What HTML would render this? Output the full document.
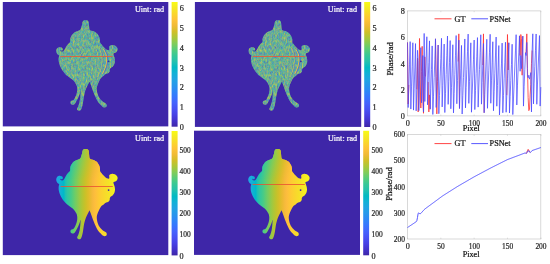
<!DOCTYPE html>
<html lang="en"><head><meta charset="utf-8"><title>Phase maps: GT vs PSNet</title>
<style>html,body{margin:0;padding:0;background:#fff}svg{display:block}text{font-family:"Liberation Serif",serif;stroke-width:.22px}</style>
</head><body>
<svg width="550" height="264" viewBox="0 0 550 264">
<defs>
<linearGradient id="pv" x1="0" y1="1" x2="0" y2="0"><stop offset="0.0000" stop-color="#3e26a8"/><stop offset="0.0476" stop-color="#4332cb"/><stop offset="0.0952" stop-color="#4741e5"/><stop offset="0.1429" stop-color="#4852f4"/><stop offset="0.1905" stop-color="#4563fd"/><stop offset="0.2381" stop-color="#3875fe"/><stop offset="0.2857" stop-color="#2e87f7"/><stop offset="0.3333" stop-color="#2797eb"/><stop offset="0.3810" stop-color="#20a5e3"/><stop offset="0.4286" stop-color="#12b1d6"/><stop offset="0.4762" stop-color="#02bac3"/><stop offset="0.5238" stop-color="#24c1ae"/><stop offset="0.5714" stop-color="#37c897"/><stop offset="0.6190" stop-color="#57cc7a"/><stop offset="0.6667" stop-color="#81cc59"/><stop offset="0.7143" stop-color="#abc739"/><stop offset="0.7619" stop-color="#d1bf27"/><stop offset="0.8095" stop-color="#f0ba36"/><stop offset="0.8571" stop-color="#fec338"/><stop offset="0.9048" stop-color="#fad62d"/><stop offset="0.9524" stop-color="#f5e924"/><stop offset="1.0000" stop-color="#f9fb15"/></linearGradient>
<linearGradient id="uw" gradientUnits="userSpaceOnUse" x1="54" y1="0" x2="120" y2="0"><stop offset="0.0000" stop-color="#259be8"/><stop offset="0.0294" stop-color="#22a2e4"/><stop offset="0.0588" stop-color="#1da9e0"/><stop offset="0.0882" stop-color="#16afd9"/><stop offset="0.1176" stop-color="#0ab4d1"/><stop offset="0.1471" stop-color="#01b8c9"/><stop offset="0.1765" stop-color="#21c1b0"/><stop offset="0.2059" stop-color="#31c6a0"/><stop offset="0.2353" stop-color="#3bc993"/><stop offset="0.2647" stop-color="#4acb85"/><stop offset="0.2941" stop-color="#5ecc74"/><stop offset="0.3235" stop-color="#71cd64"/><stop offset="0.3529" stop-color="#84cb56"/><stop offset="0.3824" stop-color="#97ca47"/><stop offset="0.4118" stop-color="#a9c73a"/><stop offset="0.4412" stop-color="#b9c430"/><stop offset="0.4706" stop-color="#c8c129"/><stop offset="0.5000" stop-color="#d6be28"/><stop offset="0.5294" stop-color="#e2bc2b"/><stop offset="0.5588" stop-color="#edba33"/><stop offset="0.5882" stop-color="#f6ba3c"/><stop offset="0.6176" stop-color="#fdbd3d"/><stop offset="0.6471" stop-color="#fec339"/><stop offset="0.6765" stop-color="#fec934"/><stop offset="0.7059" stop-color="#fccf31"/><stop offset="0.7353" stop-color="#fad42e"/><stop offset="0.7647" stop-color="#f8d92c"/><stop offset="0.7941" stop-color="#f6de29"/><stop offset="0.8235" stop-color="#f5e227"/><stop offset="0.8529" stop-color="#f5e725"/><stop offset="0.8824" stop-color="#f5eb23"/><stop offset="0.9118" stop-color="#f6f020"/><stop offset="0.9412" stop-color="#f7f41c"/><stop offset="0.9706" stop-color="#f8f817"/><stop offset="1.0000" stop-color="#f9fb15"/></linearGradient>
<linearGradient id="uw2" href="#uw" gradientTransform="translate(4.5,0)"/>
<linearGradient id="fadeg" gradientUnits="userSpaceOnUse" x1="0" y1="158" x2="0" y2="180"><stop offset="0" stop-color="#fff"/><stop offset="1" stop-color="#000"/></linearGradient>
<mask id="fade" maskUnits="userSpaceOnUse" x="50" y="140" width="80" height="110"><rect x="50" y="140" width="80" height="110" fill="url(#fadeg)"/></mask>
<path id="vase" d="M85.50,148.90C86.10,148.90 86.88,149.02 87.40,149.30C87.92,149.58 88.35,150.05 88.60,150.60C88.85,151.15 88.82,151.93 88.90,152.60C88.98,153.27 89.03,153.90 89.10,154.60C89.17,155.30 89.20,156.13 89.30,156.80C89.40,157.47 89.35,158.17 89.70,158.60C90.05,159.03 90.65,159.13 91.40,159.40C92.15,159.67 93.37,159.83 94.20,160.20C95.03,160.57 95.77,161.07 96.40,161.60C97.03,162.13 97.53,162.73 98.00,163.40C98.47,164.07 98.88,164.87 99.20,165.60C99.52,166.33 99.77,167.10 99.90,167.80C100.03,168.50 99.95,169.20 100.00,169.80C100.05,170.40 99.93,170.83 100.20,171.40C100.47,171.97 101.03,172.50 101.60,173.20C102.17,173.90 102.93,174.87 103.60,175.60C104.27,176.33 104.90,177.10 105.60,177.60C106.30,178.10 107.20,178.47 107.80,178.60C108.40,178.73 108.95,178.67 109.20,178.40C109.45,178.13 109.30,177.50 109.30,177.00C109.30,176.50 109.02,175.87 109.20,175.40C109.38,174.93 109.87,174.48 110.40,174.20C110.93,173.92 111.70,173.70 112.40,173.70C113.10,173.70 113.93,173.92 114.60,174.20C115.27,174.48 115.92,174.90 116.40,175.40C116.88,175.90 117.33,176.57 117.50,177.20C117.67,177.83 117.62,178.58 117.40,179.20C117.18,179.82 116.70,180.48 116.20,180.90C115.70,181.32 114.87,181.45 114.40,181.70C113.93,181.95 113.53,182.08 113.40,182.40C113.27,182.72 113.40,182.90 113.60,183.60C113.80,184.30 114.37,185.57 114.60,186.60C114.83,187.63 115.03,188.77 115.00,189.80C114.97,190.83 114.77,191.90 114.40,192.80C114.03,193.70 113.43,194.53 112.80,195.20C112.17,195.87 111.10,196.28 110.60,196.80C110.10,197.32 109.95,197.78 109.80,198.30C109.65,198.82 109.88,199.38 109.70,199.90C109.52,200.42 109.12,201.00 108.70,201.40C108.28,201.80 107.77,202.05 107.20,202.30C106.63,202.55 105.83,202.58 105.30,202.90C104.77,203.22 104.55,203.75 104.00,204.20C103.45,204.65 102.57,205.08 102.00,205.60C101.43,206.12 101.00,206.73 100.60,207.30C100.20,207.87 99.97,208.32 99.60,209.00C99.23,209.68 98.77,210.57 98.40,211.40C98.03,212.23 97.67,213.13 97.40,214.00C97.13,214.87 96.88,215.67 96.80,216.60C96.72,217.53 96.77,218.57 96.90,219.60C97.03,220.63 97.28,221.77 97.60,222.80C97.92,223.83 98.30,224.90 98.80,225.80C99.30,226.70 99.97,227.47 100.60,228.20C101.23,228.93 101.93,229.67 102.60,230.20C103.27,230.73 104.00,231.00 104.60,231.40C105.20,231.80 105.83,232.13 106.20,232.60C106.57,233.07 106.80,233.68 106.80,234.20C106.80,234.72 106.57,235.37 106.20,235.70C105.83,236.03 105.15,236.22 104.60,236.20C104.05,236.18 103.40,235.90 102.90,235.60C102.40,235.30 102.05,234.83 101.60,234.40C101.15,233.97 100.80,233.67 100.20,233.00C99.60,232.33 98.67,231.37 98.00,230.40C97.33,229.43 96.77,228.30 96.20,227.20C95.63,226.10 95.13,225.03 94.60,223.80C94.07,222.57 93.53,221.23 93.00,219.80C92.47,218.37 91.88,216.53 91.40,215.20C90.92,213.87 90.42,212.58 90.10,211.80C89.78,211.02 89.72,210.50 89.50,210.50C89.28,210.50 89.15,211.15 88.80,211.80C88.45,212.45 87.87,213.47 87.40,214.40C86.93,215.33 86.40,216.40 86.00,217.40C85.60,218.40 85.30,219.37 85.00,220.40C84.70,221.43 84.43,222.50 84.20,223.60C83.97,224.70 83.78,225.87 83.60,227.00C83.42,228.13 83.28,229.27 83.10,230.40C82.92,231.53 82.73,232.73 82.50,233.80C82.27,234.87 82.03,235.95 81.70,236.80C81.37,237.65 81.02,238.50 80.50,238.90C79.98,239.30 79.15,239.33 78.60,239.20C78.05,239.07 77.40,238.53 77.20,238.10C77.00,237.67 77.20,237.22 77.40,236.60C77.60,235.98 78.08,235.23 78.40,234.40C78.72,233.57 79.05,232.60 79.30,231.60C79.55,230.60 79.73,229.50 79.90,228.40C80.07,227.30 80.20,226.07 80.30,225.00C80.40,223.93 80.45,222.87 80.50,222.00C80.55,221.13 80.70,219.80 80.60,219.80C80.50,219.80 80.20,221.13 79.90,222.00C79.60,222.87 79.20,224.03 78.80,225.00C78.40,225.97 77.92,226.97 77.50,227.80C77.08,228.63 76.68,229.32 76.30,230.00C75.92,230.68 75.58,231.37 75.20,231.90C74.82,232.43 74.47,232.93 74.00,233.20C73.53,233.47 72.92,233.58 72.40,233.50C71.88,233.42 71.23,233.08 70.90,232.70C70.57,232.32 70.38,231.68 70.40,231.20C70.42,230.72 70.65,230.13 71.00,229.80C71.35,229.47 72.03,229.43 72.50,229.20C72.97,228.97 73.42,228.78 73.80,228.40C74.18,228.02 74.48,227.47 74.80,226.90C75.12,226.33 75.40,225.75 75.70,225.00C76.00,224.25 76.35,223.33 76.60,222.40C76.85,221.47 77.10,220.40 77.20,219.40C77.30,218.40 77.33,217.37 77.20,216.40C77.07,215.43 76.77,214.47 76.40,213.60C76.03,212.73 75.57,212.00 75.00,211.20C74.43,210.40 73.80,209.53 73.00,208.80C72.20,208.07 71.10,207.47 70.20,206.80C69.30,206.13 68.43,205.50 67.60,204.80C66.77,204.10 65.97,203.40 65.20,202.60C64.43,201.80 63.67,200.93 63.00,200.00C62.33,199.07 61.73,198.00 61.20,197.00C60.67,196.00 60.18,195.00 59.80,194.00C59.42,193.00 59.10,192.00 58.90,191.00C58.70,190.00 58.60,188.90 58.60,188.00C58.60,187.10 58.80,186.23 58.90,185.60C59.00,184.97 59.38,184.60 59.20,184.20C59.02,183.80 58.23,183.67 57.80,183.20C57.37,182.73 56.87,182.03 56.60,181.40C56.33,180.77 56.17,180.07 56.20,179.40C56.23,178.73 56.43,177.95 56.80,177.40C57.17,176.85 57.80,176.35 58.40,176.10C59.00,175.85 59.77,175.82 60.40,175.90C61.03,175.98 61.78,176.25 62.20,176.60C62.62,176.95 62.90,177.57 62.90,178.00C62.90,178.43 62.55,179.03 62.20,179.20C61.85,179.37 61.13,179.13 60.80,179.00C60.47,178.87 60.23,178.27 60.20,178.40C60.17,178.53 60.27,179.47 60.60,179.80C60.93,180.13 61.67,180.47 62.20,180.40C62.73,180.33 63.30,179.93 63.80,179.40C64.30,178.87 64.73,177.97 65.20,177.20C65.67,176.43 66.10,175.53 66.60,174.80C67.10,174.07 67.67,173.40 68.20,172.80C68.73,172.20 69.47,171.70 69.80,171.20C70.13,170.70 70.13,170.37 70.20,169.80C70.27,169.23 70.08,168.50 70.20,167.80C70.32,167.10 70.57,166.33 70.90,165.60C71.23,164.87 71.68,164.07 72.20,163.40C72.72,162.73 73.30,162.12 74.00,161.60C74.70,161.08 75.57,160.68 76.40,160.30C77.23,159.92 78.30,159.68 79.00,159.30C79.70,158.92 80.22,158.55 80.60,158.00C80.98,157.45 81.07,156.70 81.30,156.00C81.53,155.30 81.82,154.50 82.00,153.80C82.18,153.10 82.27,152.38 82.40,151.80C82.53,151.22 82.57,150.72 82.80,150.30C83.03,149.88 83.35,149.53 83.80,149.30C84.25,149.07 84.90,148.90 85.50,148.90Z"/>
<clipPath id="vc"><use href="#vase"/></clipPath>
<filter id="nz" x="0" y="0" width="100%" height="100%" color-interpolation-filters="sRGB"><feTurbulence type="fractalNoise" baseFrequency="0.6 0.32" numOctaves="2" seed="11" result="t"/><feColorMatrix in="t" type="matrix" values="2.3 0 0 0 -0.61  2.3 0 0 0 -0.61  2.3 0 0 0 -0.61  0 0 0 0 1"/><feComponentTransfer result="a"><feFuncR type="table" tableValues="0.242 0.258 0.271 0.278 0.281 0.279 0.268 0.239 0.193 0.178 0.164 0.143 0.120 0.084 0.018 0.024 0.119 0.184 0.234 0.321 0.426 0.543 0.656 0.761 0.854 0.932 0.992 0.995 0.980 0.961 0.963 0.977"/><feFuncG type="table" tableValues="0.150 0.182 0.216 0.258 0.303 0.348 0.394 0.441 0.491 0.535 0.577 0.616 0.653 0.686 0.714 0.736 0.754 0.772 0.789 0.799 0.803 0.796 0.782 0.762 0.743 0.730 0.741 0.786 0.836 0.887 0.937 0.984"/><feFuncB type="table" tableValues="0.660 0.753 0.839 0.901 0.944 0.974 0.991 0.998 0.987 0.963 0.931 0.904 0.884 0.851 0.805 0.753 0.698 0.639 0.572 0.494 0.407 0.319 0.234 0.171 0.158 0.204 0.237 0.205 0.178 0.154 0.127 0.081"/></feComponentTransfer><feColorMatrix in="t" type="matrix" values="0 2.3 0 0 -0.61  0 2.3 0 0 -0.61  0 2.3 0 0 -0.61  0 0 0 0 1"/><feComponentTransfer result="b"><feFuncR type="table" tableValues="0.242 0.258 0.271 0.278 0.281 0.279 0.268 0.239 0.193 0.178 0.164 0.143 0.120 0.084 0.018 0.024 0.119 0.184 0.234 0.321 0.426 0.543 0.656 0.761 0.854 0.932 0.992 0.995 0.980 0.961 0.963 0.977"/><feFuncG type="table" tableValues="0.150 0.182 0.216 0.258 0.303 0.348 0.394 0.441 0.491 0.535 0.577 0.616 0.653 0.686 0.714 0.736 0.754 0.772 0.789 0.799 0.803 0.796 0.782 0.762 0.743 0.730 0.741 0.786 0.836 0.887 0.937 0.984"/><feFuncB type="table" tableValues="0.660 0.753 0.839 0.901 0.944 0.974 0.991 0.998 0.987 0.963 0.931 0.904 0.884 0.851 0.805 0.753 0.698 0.639 0.572 0.494 0.407 0.319 0.234 0.171 0.158 0.204 0.237 0.205 0.178 0.154 0.127 0.081"/></feComponentTransfer><feColorMatrix in="t" type="matrix" values="0 0 2.3 0 -0.61  0 0 2.3 0 -0.61  0 0 2.3 0 -0.61  0 0 0 0 1"/><feComponentTransfer result="c"><feFuncR type="table" tableValues="0.242 0.258 0.271 0.278 0.281 0.279 0.268 0.239 0.193 0.178 0.164 0.143 0.120 0.084 0.018 0.024 0.119 0.184 0.234 0.321 0.426 0.543 0.656 0.761 0.854 0.932 0.992 0.995 0.980 0.961 0.963 0.977"/><feFuncG type="table" tableValues="0.150 0.182 0.216 0.258 0.303 0.348 0.394 0.441 0.491 0.535 0.577 0.616 0.653 0.686 0.714 0.736 0.754 0.772 0.789 0.799 0.803 0.796 0.782 0.762 0.743 0.730 0.741 0.786 0.836 0.887 0.937 0.984"/><feFuncB type="table" tableValues="0.660 0.753 0.839 0.901 0.944 0.974 0.991 0.998 0.987 0.963 0.931 0.904 0.884 0.851 0.805 0.753 0.698 0.639 0.572 0.494 0.407 0.319 0.234 0.171 0.158 0.204 0.237 0.205 0.178 0.154 0.127 0.081"/></feComponentTransfer><feComposite in="a" in2="b" operator="arithmetic" k1="0" k2="0.5" k3="0.5" k4="0" result="ab"/><feComposite in="ab" in2="c" operator="arithmetic" k1="0" k2="0.667" k3="0.333" k4="0"/><feGaussianBlur stdDeviation="0.45"/></filter>
</defs>
<rect width="550" height="264" fill="#fff"/>
<rect x="2.8" y="2" width="165.5" height="124.4" fill="#3e26a8"/>
<rect x="194.9" y="2" width="166.3" height="124.9" fill="#3e26a8"/>
<rect x="2.8" y="131" width="165.5" height="124.1" fill="#3e26a8"/>
<rect x="194" y="130.7" width="166" height="124.2" fill="#3e26a8"/>
<rect x="171.6" y="2" width="6" height="124.7" fill="url(#pv)"/>
<rect x="364.2" y="2" width="6" height="125" fill="url(#pv)"/>
<rect x="171.6" y="131" width="6" height="124.4" fill="url(#pv)"/>
<rect x="363.2" y="130.8" width="5.9" height="124.5" fill="url(#pv)"/>
<g transform="translate(0,-128.7)"><g clip-path="url(#vc)"><rect x="52" y="145" width="70" height="98" fill="#72ae92"/><rect x="52" y="145" width="70" height="98" filter="url(#nz)" opacity="0.45"/><path d="M103.4,177.7 Q110.6,187.7 102.4,202.7" fill="none" stroke="#f2c23c" stroke-width="1.1" opacity="0.9"/><path d="M104.5,177.7 Q111.7,187.7 103.5,202.7" fill="none" stroke="#3a55e6" stroke-width="0.9" opacity="0.75"/><path d="M102.4,177.7 Q109.6,187.7 101.4,202.7" fill="none" stroke="#3fa0d8" stroke-width="0.7" opacity="0.45"/><path d="M99.4,176.7 Q105.6,188.7 98,205.7" fill="none" stroke="#e6cf45" stroke-width="0.8" opacity="0.55"/><path d="M100.4,176.7 Q106.6,188.7 99,205.7" fill="none" stroke="#4668e0" stroke-width="0.8" opacity="0.45"/><path d="M95.8,176.2 Q101,188.7 94.4,206.7" fill="none" stroke="#d8d050" stroke-width="0.7" opacity="0.35"/><path d="M96.8,176.2 Q102,188.7 95.4,206.7" fill="none" stroke="#4a78dc" stroke-width="0.7" opacity="0.3"/><circle cx="108.6" cy="190.1" r="0.9" fill="#3e26a8"/></g></g>
<rect x="60.4" y="56.05" width="52.2" height="0.9" fill="#e0603c"/>
<g transform="translate(192.3,-128.7)"><g clip-path="url(#vc)"><rect x="52" y="145" width="70" height="98" fill="#72ae92"/><rect x="52" y="145" width="70" height="98" filter="url(#nz)" opacity="0.45"/><path d="M103.4,177.7 Q110.6,187.7 102.4,202.7" fill="none" stroke="#f2c23c" stroke-width="1.1" opacity="0.9"/><path d="M104.5,177.7 Q111.7,187.7 103.5,202.7" fill="none" stroke="#3a55e6" stroke-width="0.9" opacity="0.75"/><path d="M102.4,177.7 Q109.6,187.7 101.4,202.7" fill="none" stroke="#3fa0d8" stroke-width="0.7" opacity="0.45"/><path d="M99.4,176.7 Q105.6,188.7 98,205.7" fill="none" stroke="#e6cf45" stroke-width="0.8" opacity="0.55"/><path d="M100.4,176.7 Q106.6,188.7 99,205.7" fill="none" stroke="#4668e0" stroke-width="0.8" opacity="0.45"/><path d="M95.8,176.2 Q101,188.7 94.4,206.7" fill="none" stroke="#d8d050" stroke-width="0.7" opacity="0.35"/><path d="M96.8,176.2 Q102,188.7 95.4,206.7" fill="none" stroke="#4a78dc" stroke-width="0.7" opacity="0.3"/><circle cx="108.6" cy="190.1" r="0.9" fill="#3e26a8"/></g></g>
<rect x="252.7" y="56.05" width="52.2" height="0.9" fill="#e0603c"/>
<g transform="translate(0,0)"><use href="#vase" fill="url(#uw)"/><use href="#vase" fill="url(#uw2)" mask="url(#fade)"/><circle cx="108.6" cy="190.1" r="0.9" fill="#3e26a8"/></g>
<rect x="60.6" y="186" width="52.2" height="0.8" fill="#ea5030"/>
<g transform="translate(192,0)"><use href="#vase" fill="url(#uw)"/><use href="#vase" fill="url(#uw2)" mask="url(#fade)"/><circle cx="108.6" cy="190.1" r="0.9" fill="#3e26a8"/></g>
<rect x="252.6" y="184.1" width="52.2" height="0.8" fill="#ea5030"/>
<text x="134.9" y="11.5" font-size="8.9" fill="#fff" stroke="#fff" textLength="29.2" lengthAdjust="spacingAndGlyphs">Uint: rad</text>
<text x="327.8" y="11.5" font-size="8.9" fill="#fff" stroke="#fff" textLength="29.2" lengthAdjust="spacingAndGlyphs">Uint: rad</text>
<text x="135" y="141" font-size="8.9" fill="#fff" stroke="#fff" textLength="29.2" lengthAdjust="spacingAndGlyphs">Uint: rad</text>
<text x="327.9" y="141" font-size="8.9" fill="#fff" stroke="#fff" textLength="29.2" lengthAdjust="spacingAndGlyphs">Uint: rad</text>
<text x="179.8" y="129.9" font-size="8.2" fill="#262626" stroke="#262626">0</text>
<text x="179.8" y="110.1" font-size="8.2" fill="#262626" stroke="#262626">1</text>
<text x="179.8" y="90.3" font-size="8.2" fill="#262626" stroke="#262626">2</text>
<text x="179.8" y="70.5" font-size="8.2" fill="#262626" stroke="#262626">3</text>
<text x="179.8" y="50.7" font-size="8.2" fill="#262626" stroke="#262626">4</text>
<text x="179.8" y="30.9" font-size="8.2" fill="#262626" stroke="#262626">5</text>
<text x="179.8" y="11.1" font-size="8.2" fill="#262626" stroke="#262626">6</text>
<text x="372.4" y="129.9" font-size="8.2" fill="#262626" stroke="#262626">0</text>
<text x="372.4" y="110.1" font-size="8.2" fill="#262626" stroke="#262626">1</text>
<text x="372.4" y="90.3" font-size="8.2" fill="#262626" stroke="#262626">2</text>
<text x="372.4" y="70.5" font-size="8.2" fill="#262626" stroke="#262626">3</text>
<text x="372.4" y="50.7" font-size="8.2" fill="#262626" stroke="#262626">4</text>
<text x="372.4" y="30.9" font-size="8.2" fill="#262626" stroke="#262626">5</text>
<text x="372.4" y="11.1" font-size="8.2" fill="#262626" stroke="#262626">6</text>
<text x="179.6" y="258.5" font-size="8.2" fill="#262626" stroke="#262626">0</text>
<text x="179.6" y="237.3" font-size="8.2" fill="#262626" stroke="#262626" textLength="11.2" lengthAdjust="spacingAndGlyphs">100</text>
<text x="179.6" y="216.1" font-size="8.2" fill="#262626" stroke="#262626" textLength="11.2" lengthAdjust="spacingAndGlyphs">200</text>
<text x="179.6" y="194.9" font-size="8.2" fill="#262626" stroke="#262626" textLength="11.2" lengthAdjust="spacingAndGlyphs">300</text>
<text x="179.6" y="173.7" font-size="8.2" fill="#262626" stroke="#262626" textLength="11.2" lengthAdjust="spacingAndGlyphs">400</text>
<text x="179.6" y="152.5" font-size="8.2" fill="#262626" stroke="#262626" textLength="11.2" lengthAdjust="spacingAndGlyphs">500</text>
<text x="371.6" y="258.5" font-size="8.2" fill="#262626" stroke="#262626">0</text>
<text x="371.6" y="237.3" font-size="8.2" fill="#262626" stroke="#262626" textLength="11.2" lengthAdjust="spacingAndGlyphs">100</text>
<text x="371.6" y="216.1" font-size="8.2" fill="#262626" stroke="#262626" textLength="11.2" lengthAdjust="spacingAndGlyphs">200</text>
<text x="371.6" y="194.9" font-size="8.2" fill="#262626" stroke="#262626" textLength="11.2" lengthAdjust="spacingAndGlyphs">300</text>
<text x="371.6" y="173.7" font-size="8.2" fill="#262626" stroke="#262626" textLength="11.2" lengthAdjust="spacingAndGlyphs">400</text>
<text x="371.6" y="152.5" font-size="8.2" fill="#262626" stroke="#262626" textLength="11.2" lengthAdjust="spacingAndGlyphs">500</text>
<rect x="407.5" y="10.9" width="133.3" height="105" fill="#fff" stroke="#c8c8c8" stroke-width="0.7"/>
<line x1="407.5" y1="115.9" x2="407.5" y2="114.6" stroke="#c8c8c8" stroke-width="0.6"/>
<line x1="407.5" y1="10.9" x2="407.5" y2="12.2" stroke="#c8c8c8" stroke-width="0.6"/>
<line x1="407.5" y1="239" x2="407.5" y2="237.7" stroke="#c8c8c8" stroke-width="0.6"/>
<line x1="407.5" y1="134.5" x2="407.5" y2="135.8" stroke="#c8c8c8" stroke-width="0.6"/>
<line x1="440.825" y1="115.9" x2="440.825" y2="114.6" stroke="#c8c8c8" stroke-width="0.6"/>
<line x1="440.825" y1="10.9" x2="440.825" y2="12.2" stroke="#c8c8c8" stroke-width="0.6"/>
<line x1="440.825" y1="239" x2="440.825" y2="237.7" stroke="#c8c8c8" stroke-width="0.6"/>
<line x1="440.825" y1="134.5" x2="440.825" y2="135.8" stroke="#c8c8c8" stroke-width="0.6"/>
<line x1="474.15" y1="115.9" x2="474.15" y2="114.6" stroke="#c8c8c8" stroke-width="0.6"/>
<line x1="474.15" y1="10.9" x2="474.15" y2="12.2" stroke="#c8c8c8" stroke-width="0.6"/>
<line x1="474.15" y1="239" x2="474.15" y2="237.7" stroke="#c8c8c8" stroke-width="0.6"/>
<line x1="474.15" y1="134.5" x2="474.15" y2="135.8" stroke="#c8c8c8" stroke-width="0.6"/>
<line x1="507.475" y1="115.9" x2="507.475" y2="114.6" stroke="#c8c8c8" stroke-width="0.6"/>
<line x1="507.475" y1="10.9" x2="507.475" y2="12.2" stroke="#c8c8c8" stroke-width="0.6"/>
<line x1="507.475" y1="239" x2="507.475" y2="237.7" stroke="#c8c8c8" stroke-width="0.6"/>
<line x1="507.475" y1="134.5" x2="507.475" y2="135.8" stroke="#c8c8c8" stroke-width="0.6"/>
<line x1="540.8" y1="115.9" x2="540.8" y2="114.6" stroke="#c8c8c8" stroke-width="0.6"/>
<line x1="540.8" y1="10.9" x2="540.8" y2="12.2" stroke="#c8c8c8" stroke-width="0.6"/>
<line x1="540.8" y1="239" x2="540.8" y2="237.7" stroke="#c8c8c8" stroke-width="0.6"/>
<line x1="540.8" y1="134.5" x2="540.8" y2="135.8" stroke="#c8c8c8" stroke-width="0.6"/>
<path d="M407.50,42.40 L408.17,104.09 L408.83,84.92M416.83,89.40 L417.50,58.15 L418.16,111.96 L418.83,100.15 L419.50,38.46 L420.16,79.15 L420.83,108.03 L421.50,71.28 L422.16,46.34 L422.83,101.46 L423.50,113.28 L424.16,76.53 L424.83,56.84 L425.50,76.69M428.16,81.82 L428.83,111.96 L429.49,94.90 L430.16,109.18M435.49,38.80 L436.16,76.53 L436.83,113.93 L437.49,81.78 L438.16,45.04M458.15,61.54 L458.82,33.87 L459.49,108.51M482.81,65.07 L483.48,33.87 L484.15,112.76M506.81,95.22 L507.47,34.53 L508.14,69.96 L508.81,42.77M519.47,35.83 L520.14,55.53 L520.80,34.53 L521.47,38.46 L522.14,75.21 L522.80,36.14M525.47,52.93 L526.14,51.59 L526.80,33.87 L527.47,68.65 L528.14,97.53 L528.80,110.65 L529.47,109.34 L530.14,94.90 L530.80,84.40 L531.47,63.40 L532.14,50.44" fill="none" stroke="#ff3030" stroke-width="0.8" stroke-linejoin="round"/>
<polyline points="407.50,42.40 408.17,107.56 408.83,84.92 409.50,64.86 410.17,41.61 410.83,109.07 411.50,86.89 412.17,66.66 412.83,42.76 413.50,110.11 414.17,88.26 414.83,67.93 415.50,43.59 416.16,110.92 416.83,89.40 417.50,50.28 418.16,60.78 418.83,110.65 419.50,83.09 420.16,58.15 420.83,47.65 421.50,102.78 422.16,76.53 422.83,55.53 423.50,111.96 424.16,33.45 424.83,101.50 425.50,76.69 426.16,57.22 426.83,36.76 427.50,104.82 428.16,81.82 428.83,62.72 429.49,40.87 430.16,109.18 430.83,88.40 431.49,69.63 432.16,45.93 432.83,114.45 433.49,96.19 434.16,77.67 434.83,59.19 435.49,38.80 436.16,107.48 436.83,86.41 437.49,68.03 438.16,45.04 438.83,113.74 439.49,95.36 440.16,76.95 440.82,58.51 441.49,38.31 442.16,106.93 442.82,85.48 443.49,66.89 444.16,44.06 444.82,112.54 445.49,93.31 446.16,74.52 446.82,55.69 447.49,36.04 448.16,104.35 448.82,81.35 449.49,62.33 450.16,40.57 450.82,108.77 451.49,87.53 452.16,68.40 452.82,44.76 453.49,112.91 454.15,93.43 454.82,74.29 455.49,55.18 456.15,35.54 456.82,103.77 457.49,80.50 458.15,61.54 458.82,40.13 459.49,108.51 460.15,87.51 460.82,68.82 461.49,45.43 462.15,114.03 462.82,95.74 463.49,77.40 464.15,59.15 464.82,38.98 465.49,107.90 466.15,87.44 466.82,69.57 467.49,51.78 468.15,34.08 468.82,103.36 469.48,81.37 470.15,63.89 470.82,42.81 471.48,112.22 472.15,94.27 472.82,76.99 473.48,59.76 474.15,40.06 474.82,109.58 475.48,90.62 476.15,73.43 476.82,56.24 477.48,37.60 478.15,107.10 478.82,87.00 479.48,69.71 480.15,52.38 480.81,34.78 481.48,104.15 482.15,82.59 482.81,65.07 483.48,43.53 484.15,112.76 484.81,94.67 485.48,76.95 486.15,59.18 486.81,39.24 487.48,108.30 488.15,88.10 488.81,70.19 489.48,52.25 490.15,34.29 490.81,103.28 491.48,80.84 492.15,62.89 492.81,41.74 493.48,110.77 494.14,91.62 494.81,73.77 495.48,55.97 496.14,37.04 496.81,106.22 497.48,85.40 498.14,67.86 498.81,45.55 499.48,114.95 500.14,98.19 500.81,80.99 501.48,63.88 502.14,43.08 502.81,112.80 503.48,95.58 504.14,78.84 504.81,62.19 505.48,42.22 506.14,112.25 506.81,95.22 507.47,78.89 508.14,62.62 508.81,42.77 509.47,113.03 510.14,96.63 510.81,80.56 511.47,64.52 512.14,44.23 512.81,114.59 513.47,98.96 514.14,82.96 514.81,66.95 515.47,50.92 516.14,34.68 516.81,104.98 517.47,85.12 518.14,68.96 518.81,52.75 519.47,35.83 520.14,71.28 520.80,55.53 521.47,68.65 522.14,55.53 522.80,36.14 523.47,106.11 524.14,86.25 524.80,69.61 525.47,52.93 526.14,55.53 526.80,42.40 527.47,76.53 528.14,77.84 528.80,75.21 529.47,79.15 530.14,76.53 530.80,72.59 531.47,111.96 532.14,50.44 532.80,33.81 533.47,103.89 534.13,83.15 534.80,66.69 535.47,50.29 536.13,33.97 536.80,104.26 537.47,84.05 538.13,67.99 538.80,52.01 539.47,35.57 540.13,106.08 540.80,87.12" fill="none" stroke="#4545ff" stroke-width="0.72" stroke-linejoin="round"/>
<line x1="434.5" y1="18.8" x2="451.5" y2="18.8" stroke="#ff3030" stroke-width="0.9"/>
<text x="454.6" y="21.6" font-size="8.2" fill="#111" stroke="#111">GT</text>
<line x1="471.3" y1="18.8" x2="488" y2="18.8" stroke="#4545ff" stroke-width="0.9"/>
<text x="489.6" y="21.6" font-size="8.2" fill="#111" stroke="#111">PSNet</text>
<text x="404.9" y="119.1" font-size="8.2" fill="#262626" stroke="#262626" text-anchor="end">0</text>
<text x="404.9" y="92.85" font-size="8.2" fill="#262626" stroke="#262626" text-anchor="end">2</text>
<text x="404.9" y="66.6" font-size="8.2" fill="#262626" stroke="#262626" text-anchor="end">4</text>
<text x="404.9" y="40.35" font-size="8.2" fill="#262626" stroke="#262626" text-anchor="end">6</text>
<text x="404.9" y="14.1" font-size="8.2" fill="#262626" stroke="#262626" text-anchor="end">8</text>
<text x="407.7" y="125.9" font-size="8.2" fill="#262626" stroke="#262626" text-anchor="middle">0</text>
<text x="441.025" y="125.9" font-size="8.2" fill="#262626" stroke="#262626" text-anchor="middle" textLength="7.4" lengthAdjust="spacingAndGlyphs">50</text>
<text x="474.35" y="125.9" font-size="8.2" fill="#262626" stroke="#262626" text-anchor="middle" textLength="11.2" lengthAdjust="spacingAndGlyphs">100</text>
<text x="507.675" y="125.9" font-size="8.2" fill="#262626" stroke="#262626" text-anchor="middle" textLength="11.2" lengthAdjust="spacingAndGlyphs">150</text>
<text x="541" y="125.9" font-size="8.2" fill="#262626" stroke="#262626" text-anchor="middle" textLength="11.2" lengthAdjust="spacingAndGlyphs">200</text>
<text x="471.2" y="131" font-size="8.2" fill="#111" stroke="#111" text-anchor="middle">Pixel</text>
<text transform="translate(393.4,58.8) rotate(-90)" font-size="8.6" fill="#111" stroke="#111" text-anchor="middle">Phase/rad</text>
<rect x="407.5" y="134.5" width="133.3" height="104.5" fill="#fff" stroke="#c8c8c8" stroke-width="0.7"/>
<line x1="407.5" y1="239" x2="407.5" y2="237.7" stroke="#c8c8c8" stroke-width="0.6"/>
<line x1="407.5" y1="134.5" x2="407.5" y2="135.8" stroke="#c8c8c8" stroke-width="0.6"/>
<line x1="440.825" y1="239" x2="440.825" y2="237.7" stroke="#c8c8c8" stroke-width="0.6"/>
<line x1="440.825" y1="134.5" x2="440.825" y2="135.8" stroke="#c8c8c8" stroke-width="0.6"/>
<line x1="474.15" y1="239" x2="474.15" y2="237.7" stroke="#c8c8c8" stroke-width="0.6"/>
<line x1="474.15" y1="134.5" x2="474.15" y2="135.8" stroke="#c8c8c8" stroke-width="0.6"/>
<line x1="507.475" y1="239" x2="507.475" y2="237.7" stroke="#c8c8c8" stroke-width="0.6"/>
<line x1="507.475" y1="134.5" x2="507.475" y2="135.8" stroke="#c8c8c8" stroke-width="0.6"/>
<line x1="540.8" y1="239" x2="540.8" y2="237.7" stroke="#c8c8c8" stroke-width="0.6"/>
<line x1="540.8" y1="134.5" x2="540.8" y2="135.8" stroke="#c8c8c8" stroke-width="0.6"/>
<path d="M526.14,153.57 L526.80,152.53 L527.47,150.70 L528.14,149.39 L528.80,150.18 L529.47,151.74 L530.14,152.53" fill="none" stroke="#ff3030" stroke-width="0.9" stroke-linejoin="round"/>
<polyline points="407.50,227.50 408.17,227.06 408.83,226.62 409.50,226.18 410.17,225.74 410.83,225.29 411.50,224.85 412.17,224.41 412.83,223.97 413.50,223.53 414.17,223.08 414.83,222.64 415.50,222.20 416.16,221.76 416.83,220.71 417.50,217.36 418.16,213.28 418.83,212.88 419.50,213.57 420.16,213.75 420.83,213.40 421.50,212.65 422.16,211.90 422.83,211.16 423.50,210.41 424.16,209.67 424.83,209.02 425.50,208.53 426.16,208.04 426.83,207.55 427.50,207.06 428.16,206.57 428.83,206.08 429.49,205.59 430.16,205.10 430.83,204.61 431.49,204.12 432.16,203.63 432.83,203.14 433.49,202.65 434.16,202.16 434.83,201.67 435.49,201.18 436.16,200.68 436.83,200.19 437.49,199.70 438.16,199.20 438.83,198.71 439.49,198.21 440.16,197.72 440.82,197.23 441.49,196.73 442.16,196.24 442.82,195.77 443.49,195.35 444.16,194.92 444.82,194.50 445.49,194.08 446.16,193.66 446.82,193.24 447.49,192.81 448.16,192.39 448.82,191.97 449.49,191.55 450.16,191.13 450.82,190.71 451.49,190.28 452.16,189.86 452.82,189.44 453.49,189.02 454.15,188.60 454.82,188.18 455.49,187.75 456.15,187.33 456.82,186.91 457.49,186.49 458.15,186.10 458.82,185.72 459.49,185.33 460.15,184.94 460.82,184.56 461.49,184.17 462.15,183.78 462.82,183.40 463.49,183.01 464.15,182.62 464.82,182.24 465.49,181.85 466.15,181.46 466.82,181.08 467.49,180.69 468.15,180.30 468.82,179.92 469.48,179.53 470.15,179.14 470.82,178.76 471.48,178.37 472.15,177.98 472.82,177.60 473.48,177.21 474.15,176.82 474.82,176.47 475.48,176.11 476.15,175.76 476.82,175.40 477.48,175.05 478.15,174.69 478.82,174.34 479.48,173.98 480.15,173.62 480.81,173.27 481.48,172.91 482.15,172.56 482.81,172.20 483.48,171.85 484.15,171.49 484.81,171.14 485.48,170.78 486.15,170.43 486.81,170.07 487.48,169.72 488.15,169.36 488.81,169.01 489.48,168.65 490.15,168.30 490.81,167.94 491.48,167.61 492.15,167.27 492.81,166.94 493.48,166.60 494.14,166.27 494.81,165.93 495.48,165.60 496.14,165.26 496.81,164.93 497.48,164.60 498.14,164.26 498.81,163.93 499.48,163.59 500.14,163.26 500.81,162.92 501.48,162.59 502.14,162.26 502.81,161.92 503.48,161.59 504.14,161.25 504.81,160.92 505.48,160.58 506.14,160.25 506.81,159.91 507.47,159.58 508.14,159.33 508.81,159.08 509.47,158.83 510.14,158.58 510.81,158.33 511.47,158.08 512.14,157.82 512.81,157.57 513.47,157.32 514.14,157.07 514.81,156.82 515.47,156.57 516.14,156.32 516.81,156.07 517.47,155.82 518.14,155.57 518.81,155.32 519.47,155.07 520.14,154.81 520.80,154.56 521.47,154.31 522.14,154.06 522.80,153.81 523.47,153.56 524.14,153.31 524.80,153.08 525.47,152.85 526.14,153.57 526.80,152.79 527.47,151.48 528.14,150.70 528.80,150.96 529.47,152.00 530.14,152.53 530.80,152.00 531.47,151.48 532.14,150.55 532.80,150.32 533.47,150.09 534.13,149.86 534.80,149.63 535.47,149.40 536.13,149.17 536.80,148.94 537.47,148.71 538.13,148.48 538.80,148.25 539.47,148.02 540.13,147.79 540.80,147.56" fill="none" stroke="#4545ff" stroke-width="0.9" stroke-linejoin="round"/>
<line x1="434.5" y1="143.6" x2="451.5" y2="143.6" stroke="#ff3030" stroke-width="0.9"/>
<text x="454.6" y="146.4" font-size="8.2" fill="#111" stroke="#111">GT</text>
<line x1="471.3" y1="143.6" x2="488" y2="143.6" stroke="#4545ff" stroke-width="0.9"/>
<text x="489.6" y="146.4" font-size="8.2" fill="#111" stroke="#111">PSNet</text>
<text x="404.9" y="241.8" font-size="8.2" fill="#262626" stroke="#262626" text-anchor="end" textLength="11.2" lengthAdjust="spacingAndGlyphs">200</text>
<text x="404.9" y="215.675" font-size="8.2" fill="#262626" stroke="#262626" text-anchor="end" textLength="11.2" lengthAdjust="spacingAndGlyphs">300</text>
<text x="404.9" y="189.55" font-size="8.2" fill="#262626" stroke="#262626" text-anchor="end" textLength="11.2" lengthAdjust="spacingAndGlyphs">400</text>
<text x="404.9" y="163.425" font-size="8.2" fill="#262626" stroke="#262626" text-anchor="end" textLength="11.2" lengthAdjust="spacingAndGlyphs">500</text>
<text x="404.9" y="137.3" font-size="8.2" fill="#262626" stroke="#262626" text-anchor="end" textLength="11.2" lengthAdjust="spacingAndGlyphs">600</text>
<text x="407.7" y="249" font-size="8.2" fill="#262626" stroke="#262626" text-anchor="middle">0</text>
<text x="441.025" y="249" font-size="8.2" fill="#262626" stroke="#262626" text-anchor="middle" textLength="7.4" lengthAdjust="spacingAndGlyphs">50</text>
<text x="474.35" y="249" font-size="8.2" fill="#262626" stroke="#262626" text-anchor="middle" textLength="11.2" lengthAdjust="spacingAndGlyphs">100</text>
<text x="507.675" y="249" font-size="8.2" fill="#262626" stroke="#262626" text-anchor="middle" textLength="11.2" lengthAdjust="spacingAndGlyphs">150</text>
<text x="541" y="249" font-size="8.2" fill="#262626" stroke="#262626" text-anchor="middle" textLength="11.2" lengthAdjust="spacingAndGlyphs">200</text>
<text x="471.1" y="257" font-size="8.2" fill="#111" stroke="#111" text-anchor="middle">Pixel</text>
<text transform="translate(392.2,184) rotate(-90)" font-size="8.6" fill="#111" stroke="#111" text-anchor="middle">Phase/rad</text>
</svg></body></html>
